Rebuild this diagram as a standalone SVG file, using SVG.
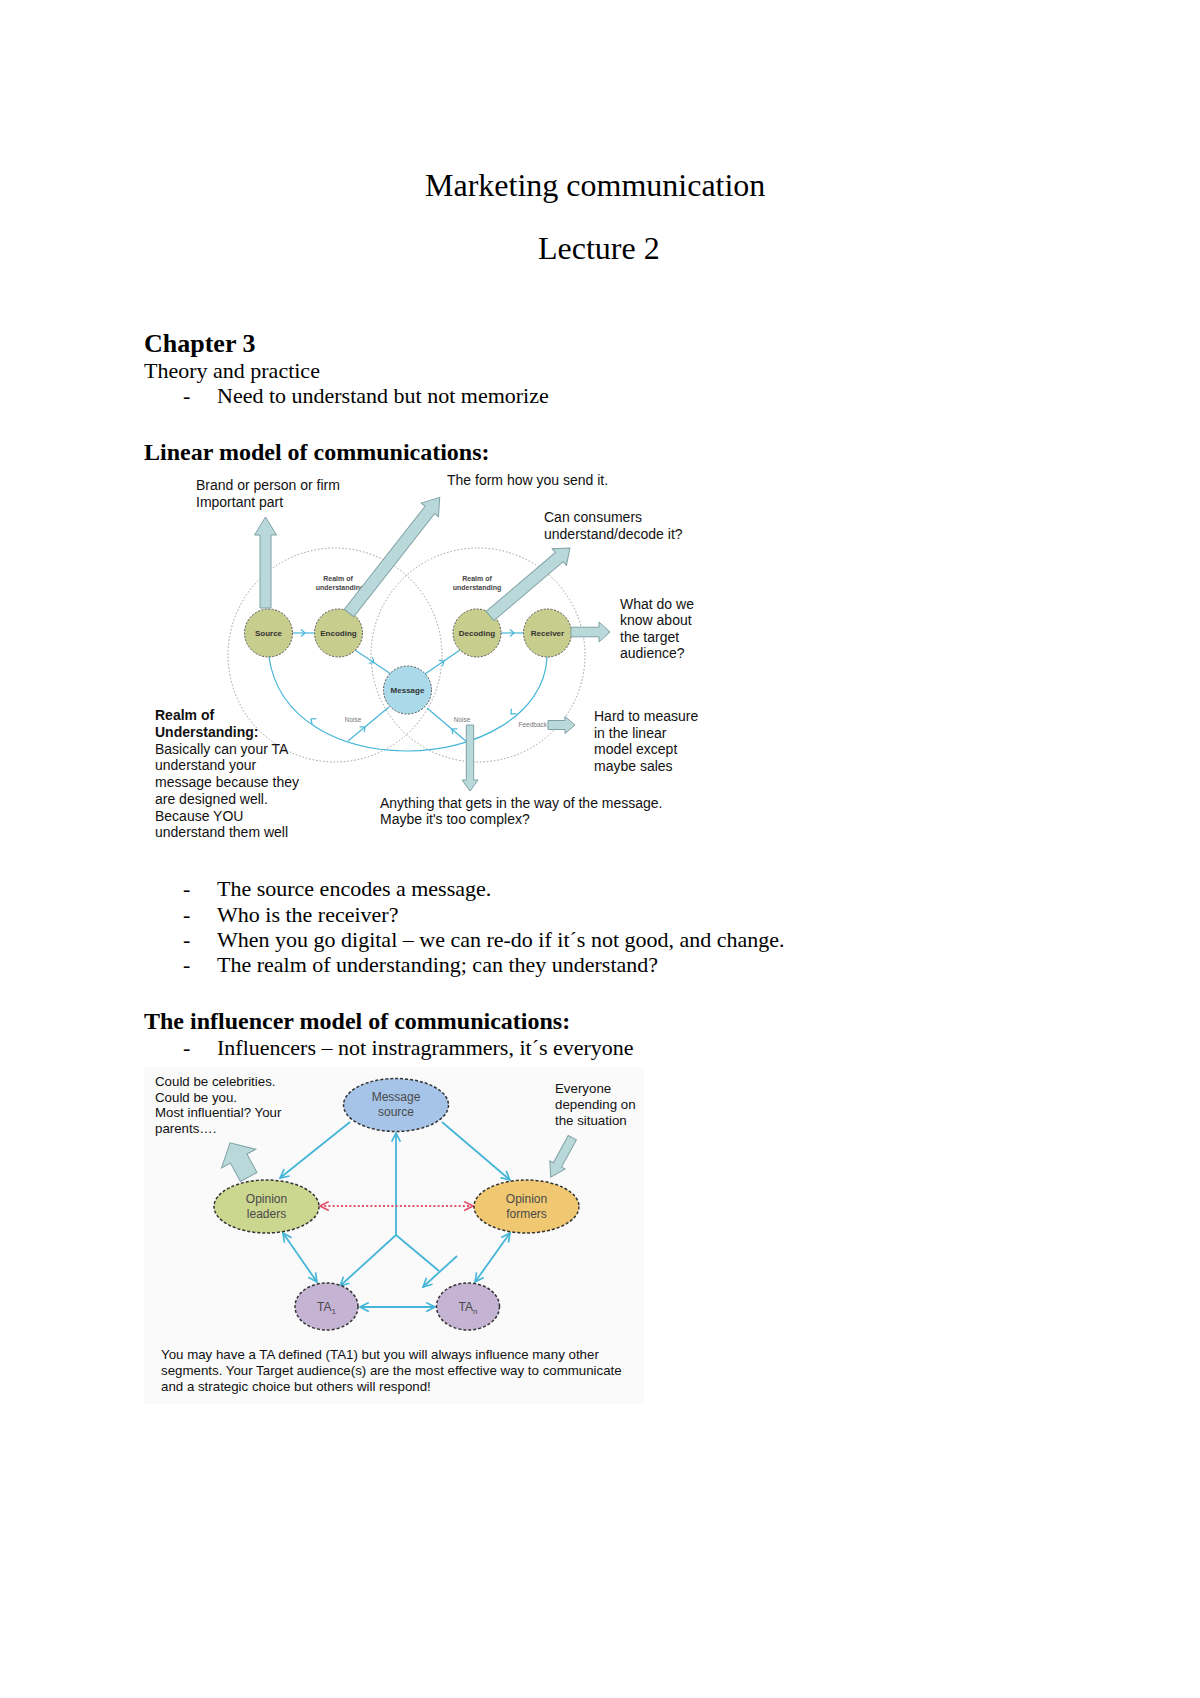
<svg xmlns="http://www.w3.org/2000/svg" xmlns:xlink="http://www.w3.org/1999/xlink" width="1200" height="1698" viewBox="0 0 1200 1698">
<style>
.ser{font-family:"Liberation Serif","Times New Roman",serif;fill:#000}
.b{font-weight:bold}
.sa{font-family:"Liberation Sans",Arial,sans-serif;fill:#111}
.l14{font-size:14px}
.l13{font-size:13.3px}
.nd{font-family:"Liberation Sans",Arial,sans-serif;font-weight:bold;font-size:8px;fill:#333;text-anchor:middle}
.tiny{font-family:"Liberation Sans",Arial,sans-serif;font-size:7px;fill:#444;text-anchor:middle;font-weight:bold}
.nz{font-family:"Liberation Sans",Arial,sans-serif;font-size:6.5px;fill:#777}
.el{font-family:"Liberation Sans",Arial,sans-serif;font-size:12px;fill:#4a4a4a;text-anchor:middle}
.realm{fill:none;stroke:#9a9a9a;stroke-width:1;stroke-dasharray:1.5 2}
.gn{fill:#c7cd8c;stroke:#555;stroke-width:1;stroke-dasharray:2 1.5}
.msg{fill:#aad9ea;stroke:#555;stroke-width:1;stroke-dasharray:2 1.5}
.ln{fill:none;stroke:#45b5d8;stroke-width:1.2}
.iln{fill:none;stroke:#45b5d8;stroke-width:1.8}
.blk{fill:#b9d8da;stroke:#7fa2a5;stroke-width:1}
.ell{stroke:#333;stroke-width:1.5;stroke-dasharray:3 2}
</style>
<defs>
<path id="chv" d="M-4,-3.5 L0,0 L-4,3.5" fill="none" stroke="#45b5d8" stroke-width="1.2"/>
<marker id="ah" viewBox="0 0 10 10" refX="9" refY="5" markerWidth="11" markerHeight="11" markerUnits="userSpaceOnUse" orient="auto-start-reverse">
<path d="M1,1 L9,5 L1,9" fill="none" stroke="#45b5d8" stroke-width="1.5"/>
</marker>
<marker id="ahr" viewBox="0 0 10 10" refX="9" refY="5" markerWidth="11" markerHeight="11" markerUnits="userSpaceOnUse" orient="auto-start-reverse">
<path d="M1,1 L9,5 L1,9" fill="none" stroke="#e2506b" stroke-width="1.5"/>
</marker>
</defs>
<rect width="1200" height="1698" fill="#fff"/>

<g id="page-text">
<text class="ser" x="425" y="196" font-size="32">Marketing communication</text>
<text class="ser" x="538" y="259" font-size="32">Lecture 2</text>
<text class="ser b" x="144" y="352" font-size="26">Chapter 3</text>
<text class="ser" x="144" y="378" font-size="22">Theory and practice</text>
<text class="ser" x="183" y="403" font-size="22">-</text>
<text class="ser" x="217" y="403" font-size="22">Need to understand but not memorize</text>
<text class="ser b" x="144" y="460" font-size="24">Linear model of communications:</text>
<text class="ser" x="183" y="896" font-size="22">-</text>
<text class="ser" x="217" y="896" font-size="22">The source encodes a message.</text>
<text class="ser" x="183" y="921.5" font-size="22">-</text>
<text class="ser" x="217" y="921.5" font-size="22">Who is the receiver?</text>
<text class="ser" x="183" y="947" font-size="22">-</text>
<text class="ser" x="217" y="947" font-size="22">When you go digital – we can re-do if it´s not good, and change.</text>
<text class="ser" x="183" y="972" font-size="22">-</text>
<text class="ser" x="217" y="972" font-size="22">The realm of understanding; can they understand?</text>
<text class="ser b" x="144" y="1029" font-size="24">The influencer model of communications:</text>
<text class="ser" x="183" y="1055" font-size="22">-</text>
<text class="ser" x="217" y="1055" font-size="22">Influencers – not instragrammers, it´s everyone</text>
</g>

<!-- Linear model -->
<g id="linear-realms">
<circle class="realm" cx="335" cy="655" r="107"/>
<circle class="realm" cx="478" cy="655" r="107"/>
<text class="tiny" x="338" y="581">Realm of</text>
<text class="tiny" x="340" y="590">understanding</text>
<text class="tiny" x="477" y="581">Realm of</text>
<text class="tiny" x="477" y="590">understanding</text>
</g>

<g id="linear-connectors">
<line class="ln" x1="293" y1="633" x2="314" y2="633"/>
<use href="#chv" transform="translate(305,633)"/>
<line class="ln" x1="501" y1="633" x2="524" y2="633"/>
<use href="#chv" transform="translate(514,633)"/>
<line class="ln" x1="355" y1="650" x2="391" y2="674"/>
<use href="#chv" transform="translate(374,662.5) rotate(33)"/>
<line class="ln" x1="425" y1="674" x2="460" y2="650"/>
<use href="#chv" transform="translate(444,661) rotate(-34)"/>
<path class="ln" d="M547,657 C545,715 475,752 405,751 C340,750 278,720 269,657"/>
<use href="#chv" transform="translate(311,719) rotate(-143)"/>
<use href="#chv" transform="translate(511,714) rotate(135)"/>
<line class="ln" x1="348" y1="741" x2="389" y2="707"/>
<use href="#chv" transform="translate(365,727) rotate(-40)"/>
<line class="ln" x1="467" y1="742" x2="427" y2="708"/>
<use href="#chv" transform="translate(452,729) rotate(-140)"/>
<text class="nz" x="353" y="722" text-anchor="middle">Noise</text>
<text class="nz" x="462" y="722" text-anchor="middle">Noise</text>
<text class="nz" x="547" y="727" text-anchor="end">Feedback</text>
</g>

<g id="node-source">
<circle class="gn" cx="268.5" cy="633" r="24"/>
<text class="nd" x="268.5" y="636">Source</text>
</g>
<g id="node-encoding">
<circle class="gn" cx="338.5" cy="633" r="24"/>
<text class="nd" x="338.5" y="636">Encoding</text>
</g>
<g id="node-decoding">
<circle class="gn" cx="477" cy="633" r="24"/>
<text class="nd" x="477" y="636">Decoding</text>
</g>
<g id="node-receiver">
<circle class="gn" cx="547.5" cy="633" r="24"/>
<text class="nd" x="547.5" y="636">Receiver</text>
</g>
<g id="node-message">
<circle class="msg" cx="407.5" cy="690" r="24"/>
<text class="nd" x="407.5" y="693">Message</text>
</g>

<g id="linear-callout-arrows">
<path class="blk" transform="translate(265.5,608) rotate(-90)" d="M0,-5.5 L73,-5.5 L73,-11 L91,0 L73,11 L73,5.5 L0,5.5 Z"/>
<path class="blk" transform="translate(349,613) rotate(-51.9)" d="M0,-6 L131,-6 L131,-11 L147,0 L131,11 L131,6 L0,6 Z"/>
<path class="blk" transform="translate(490,616) rotate(-40.4)" d="M0,-6 L91,-6 L91,-11 L105,0 L91,11 L91,6 L0,6 Z"/>
<path class="blk" transform="translate(571,632)" d="M0,-4.8 L28,-4.8 L28,-10 L39,0 L28,10 L28,4.8 L0,4.8 Z"/>
<path class="blk" transform="translate(548,725)" d="M0,-4.5 L17,-4.5 L17,-8.5 L27,0 L17,8.5 L17,4.5 L0,4.5 Z"/>
<path class="blk" transform="translate(470,725) rotate(90)" d="M0,-3.7 L55,-3.7 L55,-8 L66,0 L55,8 L55,3.7 L0,3.7 Z"/>
</g>

<g id="linear-notes">
<text class="sa l14" x="196" y="490">Brand or person or firm</text>
<text class="sa l14" x="196" y="507">Important part</text>
<text class="sa l14" x="447" y="485">The form how you send it.</text>
<text class="sa l14" x="544" y="522">Can consumers</text>
<text class="sa l14" x="544" y="539">understand/decode it?</text>
<text class="sa l14" x="620" y="608.5">What do we</text>
<text class="sa l14" x="620" y="625">know about</text>
<text class="sa l14" x="620" y="641.5">the target</text>
<text class="sa l14" x="620" y="658">audience?</text>
<text class="sa l14" x="594" y="720.5">Hard to measure</text>
<text class="sa l14" x="594" y="737.5">in the linear</text>
<text class="sa l14" x="594" y="754">model except</text>
<text class="sa l14" x="594" y="770.5">maybe sales</text>
<text class="sa l14 b" x="155" y="719.5">Realm of</text>
<text class="sa l14 b" x="155" y="736.5">Understanding:</text>
<text class="sa l14" x="155" y="753.5">Basically can your TA</text>
<text class="sa l14" x="155" y="770">understand your</text>
<text class="sa l14" x="155" y="787">message because they</text>
<text class="sa l14" x="155" y="804">are designed well.</text>
<text class="sa l14" x="155" y="820.5">Because YOU</text>
<text class="sa l14" x="155" y="837">understand them well</text>
<text class="sa l14" x="380" y="807.5">Anything that gets in the way of the message.</text>
<text class="sa l14" x="380" y="824">Maybe it's too complex?</text>
</g>

<!-- Influencer model -->
<rect x="144" y="1067" width="500" height="337" fill="#fafafa"/>

<g id="influencer-connectors">
<line class="iln" x1="350" y1="1122" x2="280" y2="1178" marker-end="url(#ah)"/>
<line class="iln" x1="442" y1="1122" x2="510" y2="1180" marker-end="url(#ah)"/>
<line class="iln" x1="396" y1="1235" x2="396" y2="1133" marker-end="url(#ah)"/>
<line class="iln" x1="396" y1="1235" x2="340" y2="1286" marker-end="url(#ah)"/>
<line class="iln" x1="396" y1="1235" x2="439" y2="1271"/>
<line class="iln" x1="457" y1="1256" x2="423" y2="1287" marker-end="url(#ah)"/>
<line class="iln" x1="283" y1="1233" x2="317" y2="1282" marker-start="url(#ah)" marker-end="url(#ah)"/>
<line class="iln" x1="510" y1="1233" x2="475" y2="1282" marker-start="url(#ah)" marker-end="url(#ah)"/>
<line class="iln" x1="360" y1="1307" x2="435" y2="1307" marker-start="url(#ah)" marker-end="url(#ah)"/>
<line x1="320" y1="1206" x2="473" y2="1206" fill="none" stroke="#e2506b" stroke-width="1.8" stroke-dasharray="2 2.2" marker-start="url(#ahr)" marker-end="url(#ahr)"/>
</g>

<g id="node-message-source">
<ellipse class="ell" cx="396" cy="1105" rx="52.5" ry="26.5" fill="#a6c4e8"/>
<text class="el" x="396" y="1101">Message</text>
<text class="el" x="396" y="1116">source</text>
</g>
<g id="node-opinion-leaders">
<ellipse class="ell" cx="266.5" cy="1206.5" rx="52.5" ry="26.5" fill="#cbd78f"/>
<text class="el" x="266.5" y="1202.5">Opinion</text>
<text class="el" x="266.5" y="1217.5">leaders</text>
</g>
<g id="node-opinion-formers">
<ellipse class="ell" cx="526.5" cy="1206.5" rx="52.5" ry="26.5" fill="#f1c872"/>
<text class="el" x="526.5" y="1202.5">Opinion</text>
<text class="el" x="526.5" y="1217.5">formers</text>
</g>
<g id="node-ta1">
<ellipse class="ell" cx="326.5" cy="1306.5" rx="31.5" ry="23.5" fill="#c5b3d4"/>
<text class="el" x="326.5" y="1311">TA<tspan font-size="8" dy="3">1</tspan></text>
</g>
<g id="node-tan">
<ellipse class="ell" cx="468" cy="1306.5" rx="31.5" ry="23.5" fill="#c5b3d4"/>
<text class="el" x="468" y="1311">TA<tspan font-size="8" dy="3">n</tspan></text>
</g>

<g id="influencer-callout-arrows">
<path class="blk" transform="translate(248.7,1177) rotate(-118.6)" d="M0,-9.4 L21,-9.4 L21,-19.5 L39,0 L21,19.5 L21,9.4 L0,9.4 Z"/>
<path class="blk" transform="translate(572.3,1137.7) rotate(118.6)" d="M0,-4.6 L31,-4.6 L31,-8.7 L45,0 L31,8.7 L31,4.6 L0,4.6 Z"/>
</g>

<g id="influencer-notes">
<text class="sa l13" x="155" y="1086">Could be celebrities.</text>
<text class="sa l13" x="155" y="1101.7">Could be you.</text>
<text class="sa l13" x="155" y="1117.3">Most influential? Your</text>
<text class="sa l13" x="155" y="1133">parents….</text>
<text class="sa l13" x="555" y="1093">Everyone</text>
<text class="sa l13" x="555" y="1109">depending on</text>
<text class="sa l13" x="555" y="1125">the situation</text>
<text class="sa l13" x="161" y="1358.5">You may have a TA defined (TA1) but you will always influence many other</text>
<text class="sa l13" x="161" y="1374.5">segments. Your Target audience(s) are the most effective way to communicate</text>
<text class="sa l13" x="161" y="1390.5">and a strategic choice but others will respond!</text>
</g>
</svg>
